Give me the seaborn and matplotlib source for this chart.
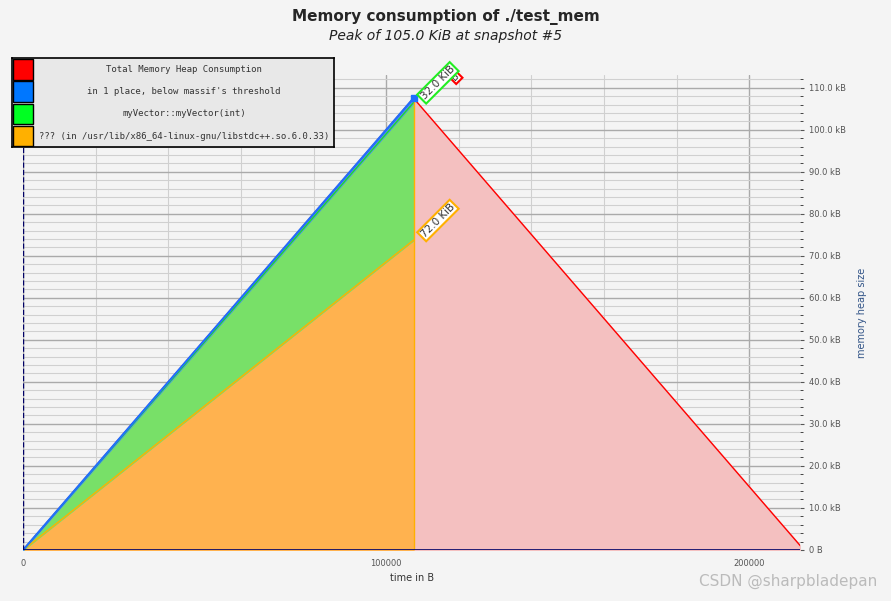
import matplotlib.pyplot as plt
import matplotlib.ticker as mticker
import numpy as np
import seaborn as sns

# snapshot times (bytes) and heap sizes (bytes)
time_b = [0, 107520, 215040]
total_b = [0, 107520, 0]
orange_b = [0, 73728, 0]
green_b = [0, 32768, 0]
blue_b = [0, 1024, 0]
legend_labels = ["Total Memory Heap Consumption", "in 1 place, below massif's threshold",
                 "myVector::myVector(int)", "??? (in /usr/lib/x86_64-linux-gnu/libstdc++.so.6.0.33)"]
legend_colors = ["#ff0000", "#0077ff", "#00ff22", "#ffb000"]

sns.set_style("white")
plt.rcParams["font.family"] = ["DejaVu Sans"]

fig = plt.figure(figsize=(8.91, 6.01), dpi=100, facecolor="#f4f4f4")
ax = fig.add_axes([0.026, 0.085, 0.872, 0.79])
ax.set_facecolor("#f4f4f4")

t = np.array(time_b)
peak = 1
# red total region (full triangle)
ax.fill_between(t, 0, total_b, color="#f4c0c0", zorder=1)
sns.lineplot(x=t, y=total_b, color="red", lw=1, ax=ax, zorder=3)
# stacked area up to peak
tp = t[:2]
o = np.array(orange_b[:2]); g = o + np.array(green_b[:2]); b = g + np.array(blue_b[:2])
ax.fill_between(tp, 0, o, color="#ffb24f", zorder=2)
ax.fill_between(tp, o, g, color="#78e068", zorder=2)
ax.fill_between(tp, g, b, color="#4a8cff", zorder=2)
ax.plot(tp, o, color="#ffb000", lw=1, zorder=3)
ax.plot(tp, g, color="#22dd22", lw=1, zorder=3)
ax.plot(tp, b, color="#1f6fff", lw=1.5, zorder=4)
ax.plot([tp[1]] * 2, [0, b[1]], color="#ffb000", lw=1, zorder=3)
ax.plot(tp[1], b[1], "s", color="#1f6fff", ms=4, zorder=5)

# annotations
ax.annotate("72.0 KiB", (tp[1], o[1]), xytext=(4, 2), textcoords="offset points", rotation=45,
            fontsize=7.5, color="#333", bbox=dict(fc="white", ec="#ffb000", lw=1.5, pad=1), zorder=6)
ax.annotate("32.0 KiB", (tp[1], g[1]), xytext=(4, 2), textcoords="offset points", rotation=45,
            fontsize=7.5, color="#333", bbox=dict(fc="white", ec="#22ee22", lw=1.5, pad=1), zorder=7)
ax.annotate("", (tp[1] + 9000, b[1] + 5500), zorder=6)
ax.text(tp[1] + 9800, b[1] + 4200, "B", rotation=45, fontsize=7, color="#333",
        bbox=dict(fc="white", ec="red", lw=1.5, pad=0.8), zorder=5)

ax.set_xlim(0, 214000)
ax.set_ylim(0, 113000)
ax.yaxis.tick_right()
ax.yaxis.set_label_position("right")
ax.set_yticks(np.arange(0, 110001, 10000))
ax.set_yticklabels(["0 B"] + [f"{v:.1f} kB" for v in range(10, 111, 10)])
ax.yaxis.set_minor_locator(mticker.MultipleLocator(2000))
ax.set_xticks([0, 100000, 200000])
ax.xaxis.set_minor_locator(mticker.MultipleLocator(20000))
ax.tick_params(axis="both", labelsize=6, colors="#555", length=3)
ax.tick_params(axis="y", which="minor", length=2)
ax.grid(which="major", color="#aaaaaa", lw=1)
ax.grid(which="minor", color="#d0d0d0", lw=0.8)
ax.set_axisbelow(True)
for s in ax.spines.values():
    s.set_visible(False)
ax.axhline(0, color="#000066", lw=1.2, zorder=4)
ax.axvline(0, color="#000066", lw=1, ls="--", zorder=4)
ax.set_xlabel("time in B", fontsize=7, color="#333")
ax.set_ylabel("memory heap size", fontsize=7, color="#335588", labelpad=8)

fig.text(0.5, 0.965, "Memory consumption of ./test_mem", ha="center", fontsize=11, weight="bold")
fig.text(0.5, 0.933, "Peak of 105.0 KiB at snapshot #5", ha="center", fontsize=10, style="italic", color="#222")

# legend box
lax = fig.add_axes([0.013, 0.755, 0.362, 0.148])
lax.set_facecolor("#e8e8e8")
lax.set_xlim(0, 1); lax.set_ylim(0, 4)
lax.set_xticks([]); lax.set_yticks([])
for s in lax.spines.values():
    s.set_color("black"); s.set_linewidth(1.2)
for i, (lab, col) in enumerate(zip(legend_labels, legend_colors)):
    y = 3 - i
    lax.add_patch(plt.Rectangle((0.005, y + 0.04), 0.062, 0.92, fc=col, ec="black", lw=1))
    lax.text(0.535, y + 0.5, lab, ha="center", va="center", fontsize=6.5, family="DejaVu Sans Mono", color="#333")

fig.text(0.985, 0.025, "CSDN @sharpbladepan", ha="right", fontsize=11, color="#bbbbbb")
fig.savefig("out.png", dpi=100, facecolor=fig.get_facecolor())
